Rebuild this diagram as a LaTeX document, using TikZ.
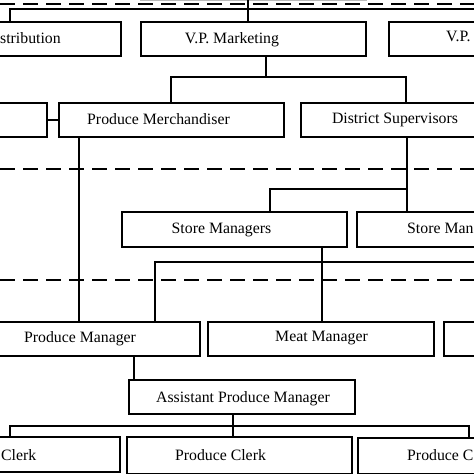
\documentclass[tikz,border=0pt]{standalone}
\usepackage{fontspec}
\setmainfont{Liberation Serif}
\begin{document}
\begin{tikzpicture}[x=1pt,y=-1pt,
  box/.style={draw=black, line width=1.5pt, rectangle, inner sep=0pt, fill=none},
  lbl/.style={inner sep=0pt, font=\fontsize{15.8}{19}\selectfont},
  conn/.style={draw=black, line width=1.3pt},
  sep/.style={draw=black, line width=1.5pt, dash pattern=on 15pt off 8pt}]
\useasboundingbox (0,0) rectangle (474,474);
\clip (0,0) rectangle (474,474);
\fill[white] (0,0) rectangle (474,474);
% helper to make boxes by corners
\newcommand{\mybox}[5]{%
  \node[box, minimum width={#4-#2}, minimum height={#5-#3}] (#1) at ({(#2+#4)/2},{(#3+#5)/2}) {};}
% top partial box (gray)
\node[box, draw=gray!55, minimum width=225pt, minimum height=40pt] (bpres) at (253.5,-19.5) {};
% dashed separators
\coordinate (d1l) at (0,4);   \coordinate (d1r) at (480,4);
\coordinate (d2l) at (0,169); \coordinate (d2r) at (480,169);
\coordinate (d3l) at (0,280); \coordinate (d3r) at (480,280);
\draw[sep] (d1l) -- (d1r);
\draw[sep] (d2l) -- (d2r);
\draw[sep] (d3l) -- (d3r);
% row 1
\mybox{bdist}{-110}{22}{121}{56}
\mybox{bvpm}{141}{22}{366}{56}
\mybox{bvpr}{389}{22}{620}{56}
% row 2
\mybox{bleft}{-180}{103}{47}{137}
\mybox{bpm}{59}{103}{284}{137}
\mybox{bds}{301}{103}{530}{137}
% row 3
\mybox{bsm}{122}{212}{347}{247}
\mybox{bsmr}{357}{212}{580}{247}
% row 4
\mybox{bprm}{-30}{322}{200}{356}
\mybox{bmm}{208}{322}{434}{356}
\mybox{bmr}{444}{322}{670}{356}
% row 4b
\mybox{bapm}{129}{380}{355}{414}
% row 5
\mybox{bc1}{-110}{437}{120}{472}
\mybox{bc2}{127}{437}{352}{474}
\mybox{bc3}{358}{438}{590}{474}
% labels
\node[lbl, anchor=base west] (tdist) at (0,43) {stribution};
\node[lbl, anchor=base] (tvpm) at (232,43) {V.P. Marketing};
\node[lbl, anchor=base west] (tvpr) at (446,41) {V.P.};
\node[lbl, anchor=base] (tpm) at (158.5,124) {Produce Merchandiser};
\node[lbl, anchor=base] (tds) at (395,123) {District Supervisors};
\node[lbl, anchor=base] (tsm) at (221.5,233) {Store Managers};
\node[lbl, anchor=base west] (tsmr) at (407,233) {Store Man};
\node[lbl, anchor=base] (tprm) at (80,342) {Produce Manager};
\node[lbl, anchor=base] (tmm) at (321.5,341) {Meat Manager};
\node[lbl, anchor=base] (tapm) at (243,402) {Assistant Produce Manager};
\node[lbl, anchor=base west] (tc1) at (1,460) {Clerk};
\node[lbl, anchor=base] (tc2) at (220.5,460) {Produce Clerk};
\node[lbl, anchor=base west] (tc3) at (407,460) {Produce C};
% connectors, top
\coordinate (ctop) at (248,-2);
\draw[conn] (ctop) -- (ctop |- bvpm.north);
\coordinate (h1l) at (10,9); \coordinate (h1r) at (480,9);
\draw[conn] (h1l |- bdist.north) -- (h1l) -- (h1r);
% VP Marketing
\coordinate (j1) at (266,77);
\coordinate (j1l) at (171,77); \coordinate (j1r) at (406,77);
\draw[conn] (j1 |- bvpm.south) -- (j1);
\draw[conn] (j1l |- bpm.north) -- (j1l) -- (j1r) -- (j1r |- bds.north);
% left to produce merchandiser
\draw[conn] (bleft.east) -- (bpm.west);
% produce merchandiser to produce manager
\coordinate (x79) at (79,0);
\draw[conn] (x79 |- bpm.south) -- (x79 |- bprm.north);
% district supervisors to store managers
\coordinate (j2) at (407,189); \coordinate (j2l) at (270,189);
\draw[conn] (j2 |- bds.south) -- (j2 |- bsmr.north);
\draw[conn] (j2) -- (j2l) -- (j2l |- bsm.north);
% store managers to department managers
\coordinate (j3) at (322,262); \coordinate (j3l) at (155,262); \coordinate (j3r) at (480,262);
\draw[conn] (j3 |- bsm.south) -- (j3 |- bmm.north);
\draw[conn] (j3r) -- (j3l) -- (j3l |- bprm.north);
% produce manager to assistant
\coordinate (x134) at (134,0);
\draw[conn] (x134 |- bprm.south) -- (x134 |- bapm.north);
% assistant to clerks
\coordinate (j4) at (233,426); \coordinate (j4l) at (10,426); \coordinate (j4r) at (469,426);
\draw[conn] (j4 |- bapm.south) -- (j4 |- bc2.north);
\draw[conn] (j4l |- bc1.north) -- (j4l) -- (j4r) -- (j4r |- bc3.north);
\end{tikzpicture}
\end{document}
